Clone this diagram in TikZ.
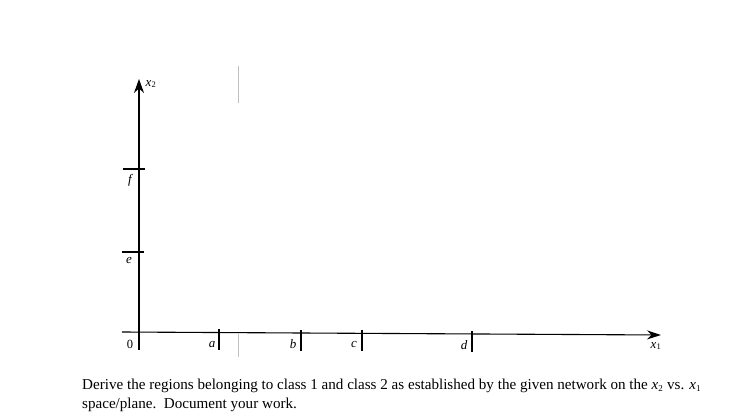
\documentclass[tikz,border=0pt]{standalone}
\usepackage{fontspec}
\setmainfont{Liberation Serif}
\usetikzlibrary{arrows.meta}
\tikzset{
  axisline/.style={line width=1.1pt},
  tickmark/.style={line width=1.6pt},
  ticklabel/.style={font=\fontsize{13}{14}\selectfont\itshape, inner sep=0pt},
  bodytext/.style={font=\fontsize{15.1}{18}\selectfont, inner sep=0pt, anchor=base west},
  scanline/.style={line width=0.6pt, black!25}
}
\newcommand{\subidx}[1]{\textsubscript{\upshape\fontsize{8.5}{8.5}\selectfont #1}}
\begin{document}
\begin{tikzpicture}[x=1pt,y=-1pt]
\useasboundingbox (0,0) rectangle (734,420);
% axes
\coordinate (ybot) at (139,350);
\coordinate (ytop) at (139,79);
\coordinate (xleft) at (122,332);
\coordinate (xright) at (661,335);
\draw[axisline] (ybot) -- (139,330);
\draw[axisline,-{Stealth[length=14pt,width=10pt]}] (139,330) -- (ytop);
\draw[axisline,-{Stealth[length=14pt,width=9pt]}] (xleft) -- (xright);
% faint scan lines
\coordinate (s1) at (238,66); \coordinate (s2) at (238,103);
\draw[scanline] (s1) -- (s2);
\coordinate (s3) at (238,334); \coordinate (s4) at (238,357);
\draw[scanline] (s3) -- (s4);
% ticks on x2 axis
\coordinate (f1) at (123,169); \coordinate (f2) at (145,169);
\draw[tickmark] (f1) -- (f2);
\coordinate (e1) at (122,252); \coordinate (e2) at (144,252);
\draw[tickmark] (e1) -- (e2);
% ticks on x1 axis
\coordinate (a1) at (219,329); \coordinate (a2) at (219,350);
\draw[tickmark] (a1) -- (a2);
\coordinate (b1) at (301,330); \coordinate (b2) at (301,351);
\draw[tickmark] (b1) -- (b2);
\coordinate (c1) at (362,330); \coordinate (c2) at (362,351);
\draw[tickmark] (c1) -- (c2);
\coordinate (d1) at (472,331); \coordinate (d2) at (472,352);
\draw[tickmark] (d1) -- (d2);
% labels
\node[ticklabel] (lx2) at (151,84) {x\subidx{2}};
\node[ticklabel] (lf) at (130,180) {f};
\node[ticklabel] (le) at (129,260) {e};
\node[ticklabel,font=\fontsize{12.5}{13}\selectfont\upshape] (l0) at (130,344) {0};
\node[ticklabel] (la) at (212,345) {a};
\node[ticklabel] (lb) at (293,344) {b};
\node[ticklabel] (lc) at (354,344) {c};
\node[ticklabel] (ld) at (464,345) {d};
\node[ticklabel] (lx1) at (656,346) {x\subidx{1}};
% text
\node[bodytext] (t1) at (82,389) {Derive the regions belonging to class 1 and class 2 as established by the given network on the \textit{x}\textsubscript{\fontsize{9}{9}\selectfont 2} vs. \textit{x}\textsubscript{\fontsize{9}{9}\selectfont 1}};
\node[bodytext] (t2) at (82,408) {space/plane.\ \ Document your work.};
\end{tikzpicture}
\end{document}
